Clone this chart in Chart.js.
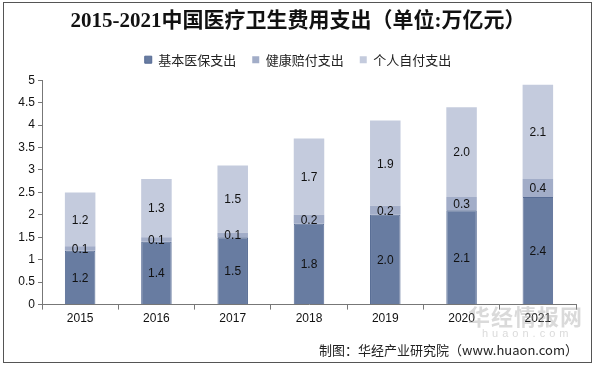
<!doctype html>
<html lang="zh-CN">
<head>
  <meta charset="utf-8" />
  <title>2015-2021中国医疗卫生费用支出</title>
  <script src="https://cdn.jsdelivr.net/npm/chart.js@4.4.3/dist/chart.umd.min.js"></script>
  <style>
    html, body {
      margin: 0;
      padding: 0;
      background: #fff;
    }
    .frame {
      position: relative;
      width: 596px;
      height: 366px;
      overflow: hidden;
    }
    .border {
      position: absolute;
      left: 3px;
      top: 2px;
      width: 587px;
      height: 359px;
      border: 1px solid #555;
      pointer-events: none;
    }
    .credit {
      position: absolute;
      right: 18px;
      top: 340px;
      font: 13px "Noto Sans CJK SC", sans-serif;
      color: #222;
    }
    .mark {
      position: absolute;
      left: 468px;
      top: 302px;
      font: bold 22px "Noto Sans CJK SC", sans-serif;
      color: rgba(150, 150, 150, 0.35);
      letter-spacing: 1px;
      line-height: 26px;
    }
    .mark small {
      display: block;
      font: 11px "Liberation Sans", sans-serif;
      letter-spacing: 4px;
      line-height: 10px;
      padding-left: 14px;
    }
  </style>
</head>
<body>
  <div class="frame">
    <canvas id="chart" width="596" height="366"></canvas>
    <div class="mark">华经情报网<small>huaon.com</small></div>
    <div class="credit">制图：华经产业研究院（www.huaon.com）</div>
    <div class="border"></div>
  </div>
  <script>
    const years = ["2015", "2016", "2017", "2018", "2019", "2020", "2021"];
    const basicInsurance = [1.2, 1.4, 1.5, 1.8, 2.0, 2.1, 2.4];
    const healthCompensation = [0.1, 0.1, 0.1, 0.2, 0.2, 0.3, 0.4];
    const outOfPocket = [1.2, 1.3, 1.5, 1.7, 1.9, 2.0, 2.1];
    const seriesNames = ["基本医保支出", "健康赔付支出", "个人自付支出"];

    // labels in the middle of each segment
    const segmentLabels = {
      id: "segmentLabels",
      afterDatasetsDraw(chart) {
        const ctx = chart.ctx;
        ctx.save();
        ctx.font = "12px 'Liberation Sans', Arial, sans-serif";
        ctx.fillStyle = "#111";
        ctx.textAlign = "center";
        ctx.textBaseline = "middle";
        chart.data.datasets.forEach((ds, i) => {
          const meta = chart.getDatasetMeta(i);
          meta.data.forEach((bar, j) => {
            const y = (bar.y + bar.base) / 2;
            ctx.fillText(ds.data[j].toFixed(1), bar.x, y + 1);
          });
        });
        ctx.restore();
      },
    };

    // a bit of room under the legend, and centre title + legend on the page
    const headerTweak = {
      id: "headerTweak",
      beforeInit(chart) {
        const fit = chart.legend.fit;
        chart.legend.fit = function () {
          fit.call(this);
          this.height += 4;
        };
      },
      afterLayout(chart) {
        for (const box of [chart.legend, chart.titleBlock]) {
          if (!box) continue;
          box.left += 8;
          box.right += 8;
        }
      },
    };

    new Chart(document.getElementById("chart"), {
      type: "bar",
      data: {
        labels: years,
        datasets: [
          { label: seriesNames[0], data: basicInsurance, backgroundColor: "#687ca1", borderColor: "#566b94", borderWidth: 1 },
          { label: seriesNames[1], data: healthCompensation, backgroundColor: "#a2adc8", borderColor: "#a2adc8", borderWidth: 0 },
          { label: seriesNames[2], data: outOfPocket, backgroundColor: "#c4cbdd", borderColor: "#c4cbdd", borderWidth: 0 },
        ],
      },
      options: {
        responsive: false,
        animation: false,
        layout: { padding: { left: 4, right: 20, top: 0, bottom: 38 } },
        datasets: { bar: { categoryPercentage: 0.4, barPercentage: 1 } },
        plugins: {
          title: {
            display: true,
            text: "2015-2021中国医疗卫生费用支出（单位:万亿元）",
            color: "#111",
            font: { family: "'Liberation Serif', 'Noto Sans CJK SC', serif", size: 21, weight: "bold" },
            padding: { top: 9, bottom: 3 },
          },
          legend: {
            display: true,
            labels: {
              boxWidth: 7,
              boxHeight: 7,
              color: "#222",
              padding: 16,
              font: { family: "'Noto Sans CJK SC', sans-serif", size: 13 },
            },
          },
          tooltip: { enabled: false },
        },
        scales: {
          x: {
            stacked: true,
            offset: true,
            border: { color: "#777" },
            grid: { display: true, drawOnChartArea: false, offset: true, tickLength: 5, color: "#777" },
            ticks: {
              color: "#111",
              padding: 2,
              font: { family: "'Liberation Sans', Arial, sans-serif", size: 12 },
            },
          },
          y: {
            stacked: true,
            min: 0,
            max: 5,
            afterFit(scale) { scale.width = 38; },
            border: { color: "#777" },
            grid: { display: true, drawOnChartArea: false, tickLength: 4, color: "#777" },
            ticks: {
              stepSize: 0.5,
              color: "#111",
              padding: 3,
              callback: (v) => String(Number(v)),
              font: { family: "'Liberation Sans', Arial, sans-serif", size: 12 },
            },
          },
        },
      },
      plugins: [segmentLabels, headerTweak],
    });
  </script>
</body>
</html>
